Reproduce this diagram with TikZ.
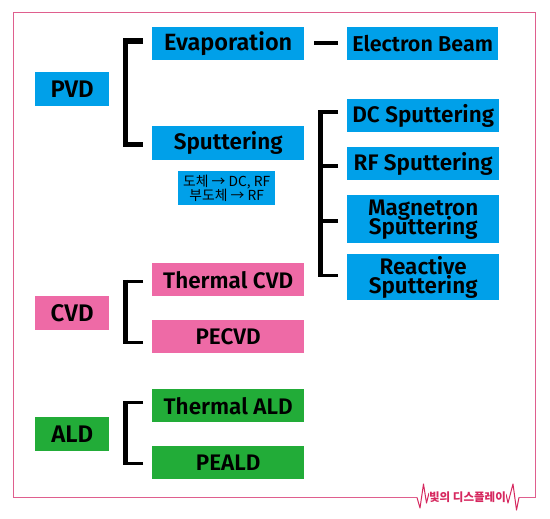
\documentclass[tikz,border=0pt]{standalone}
\usepackage{fontspec}
\setmainfont{Fira Sans}[BoldFont={Fira Sans SemiBold}]
\newfontfamily\krfont{Noto Sans CJK KR}
\normallineskiplimit=-30pt
\lineskiplimit=-30pt
\definecolor{bluebox}{HTML}{00A0E9}
\definecolor{pinkbox}{HTML}{EE6AA6}
\definecolor{greenbox}{HTML}{22AC38}
\definecolor{framepink}{HTML}{DF5F8E}
\definecolor{markred}{HTML}{D6285F}
\tikzset{
  x=1pt,y=-1pt,
  box/.style={inner sep=0pt,align=center,text=black,font=\fontsize{22.5}{19}\selectfont\bfseries},
  bluefill/.style={box,fill=bluebox},
  pinkfill/.style={box,fill=pinkbox},
  greenfill/.style={box,fill=greenbox},
  notefill/.style={box,fill=bluebox,font=\fontsize{13.8}{14.5}\selectfont\krfont},
  heavy/.style={draw=black,line width=5.2pt,miter limit=10},
  medium/.style={draw=black,line width=3.2pt},
  spine/.style={draw=black,line width=5pt},
  spike/.style={draw=markred,line width=1pt,line join=round},
}
\newcommand{\bx}[7]{% name, style, x0, y0, x1, y1, text
  \node[#2,minimum width=#5pt-#3pt,minimum height=#6pt-#4pt,anchor=north west] (#1) at (#3,#4) {#7};}
\begin{document}
\begin{tikzpicture}
\useasboundingbox (0,0) rectangle (550,519);
\fill[white] (0,0) rectangle (550,519);
% frame
\coordinate (fa) at (417,497.5);
\coordinate (fb) at (519,497.5);
\draw[framepink,line width=1.4pt] (fa) -- (13.5,497.5) -- (13.5,12.5) -- (535.5,12.5) -- (535.5,497.5) -- (fb);
% boxes
\bx{pvd}{bluefill}{35}{72}{109}{106}{\fontsize{24}{19}\selectfont PVD}
\bx{evap}{bluefill}{152}{27}{304}{60}{\fontsize{23.5}{19}\selectfont Evaporation}
\bx{sput}{bluefill}{152}{126}{304}{160}{Sputtering}
\bx{note}{notefill}{178}{171}{275}{205}{도체 → DC, RF\\부도체 → RF}
\bx{ebeam}{bluefill}{347}{27}{498}{60}{\fontsize{21.5}{19}\selectfont Electron Beam}
\bx{dc}{bluefill}{347}{99}{499}{132}{DC Sputtering}
\bx{rf}{bluefill}{347}{147}{499}{180}{RF Sputtering}
\bx{mag}{bluefill}{347}{195}{499}{243}{Magnetron\\Sputtering}
\bx{rea}{bluefill}{347}{254}{499}{300}{Reactive\\Sputtering}
\bx{cvd}{pinkfill}{35}{296}{109}{330}{\fontsize{24}{19}\selectfont CVD}
\bx{tcvd}{pinkfill}{152}{263}{304}{296}{Thermal CVD}
\bx{pecvd}{pinkfill}{152}{320}{304}{353}{PECVD}
\bx{ald}{greenfill}{35}{417}{109}{451}{\fontsize{24}{19}\selectfont ALD}
\bx{tald}{greenfill}{152}{389}{304}{422}{Thermal ALD}
\bx{peald}{greenfill}{152}{446}{304}{479}{PEALD}
% brackets
\coordinate (b1a) at (143,41); \coordinate (b1b) at (143,144.5);
\draw[heavy] (b1a) -- (125.5,41) -- (125.5,144.5) -- (b1b);
\coordinate (e1) at (314,43); \coordinate (e2) at (338,43);
\draw[draw=black,line width=3.6pt] (e1) -- (e2);
\coordinate (s1) at (338,112); \coordinate (s2) at (338,166); \coordinate (s3) at (338,221); \coordinate (s4) at (338,275.5);
\draw[medium] (s1) -- (320,112);
\draw[medium] (s2) -- (320,166);
\draw[medium] (s3) -- (320,221);
\draw[medium] (s4) -- (320,275.5);
\draw[spine] (320,110.4) -- (320,277.1);
\coordinate (c1) at (143,281.5); \coordinate (c2) at (143,342.7);
\draw[medium] (c1) -- (125.5,281.5);
\draw[medium] (c2) -- (125.5,342.7);
\draw[spine] (125.5,279.9) -- (125.5,344.3);
\coordinate (a1) at (143,402.7); \coordinate (a2) at (143,463.3);
\draw[medium] (a1) -- (125.5,402.7);
\draw[medium] (a2) -- (125.5,463.3);
\draw[spine] (125.5,401.1) -- (125.5,464.9);
% watermark
\draw[spike] (fa) -- (420,508) -- (423.5,484) -- (426.5,503) -- (429,493);
\draw[spike] (506,494) -- (508,503) -- (513,484) -- (516.5,510) -- (fb);
\node[inner sep=0pt,text=markred,font=\fontsize{11.5}{12}\selectfont\krfont\bfseries,fill=white] (mark) at (467.5,497.5) {빛의 디스플레이};
\end{tikzpicture}
\end{document}
